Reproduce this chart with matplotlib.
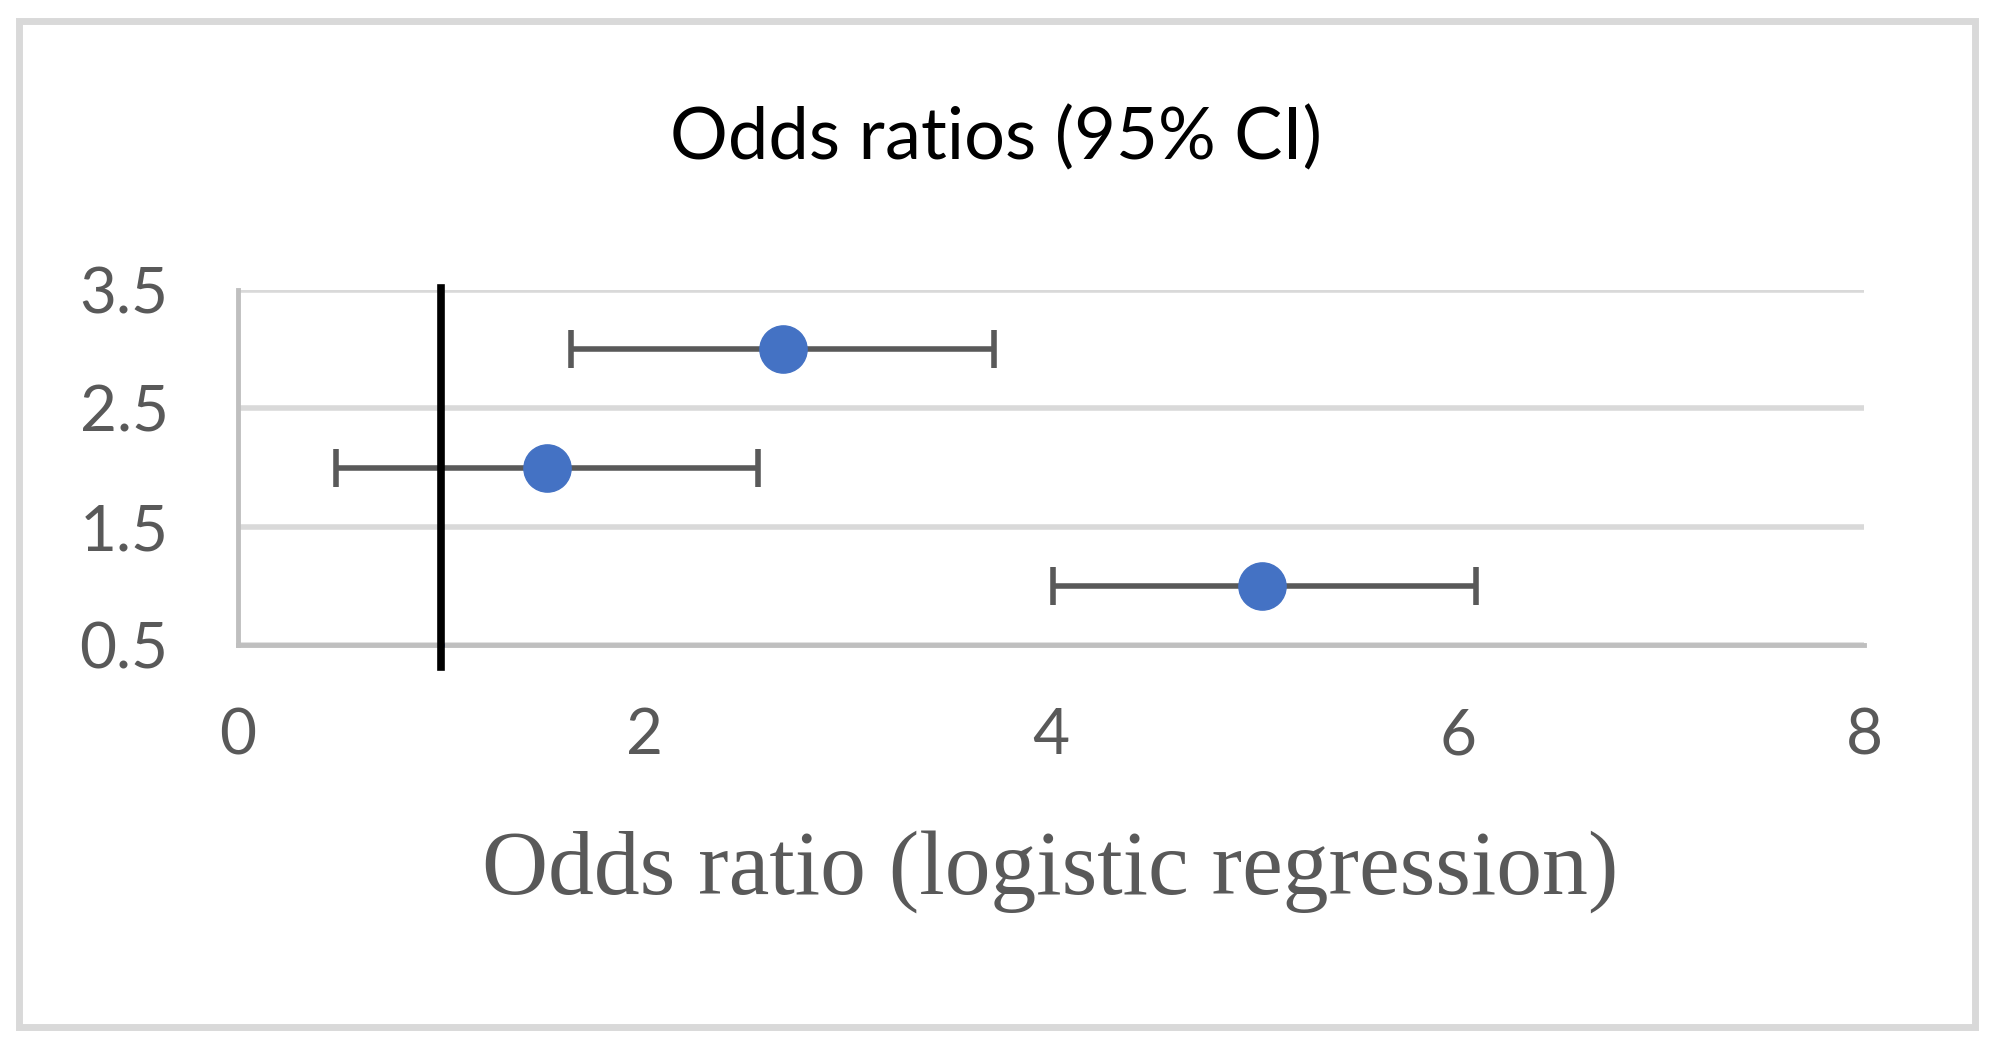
import matplotlib
matplotlib.use("Agg")
import matplotlib.pyplot as plt
from matplotlib.patches import Rectangle

# ---- data ----
rows = [1, 2, 3]
odds = [5.04, 1.52, 2.68]
ci_low = [4.01, 0.48, 1.64]
ci_high = [6.09, 2.56, 3.72]
ref_x = [1, 1]
ref_y = [0.31, 3.52]

BLUE = "#4472C4"
GREY_TXT = "#595959"
ERR = "#595959"

fig = plt.figure(figsize=(19.95, 10.47), dpi=100)
fig.patch.set_facecolor("white")

# outer chart border
fig.patches.append(Rectangle((19 / 1995, 1 - 1027 / 1047), (1975 - 19) / 1995, (1027 - 21) / 1047,
                             transform=fig.transFigure, fill=False,
                             edgecolor="#d9d9d9", linewidth=5))

ax = fig.add_axes([238 / 1995, 1 - 645 / 1047, (1864 - 238) / 1995, (645 - 290) / 1047])

xerr = [[o - lo for o, lo in zip(odds, ci_low)], [hi - o for o, hi in zip(odds, ci_high)]]
ax.errorbar(odds, rows, xerr=xerr, fmt="none", ecolor=ERR, elinewidth=4,
            capsize=14, capthick=4, zorder=3)
ax.plot(odds, rows, "o", color=BLUE, markersize=34, zorder=4)

# reference line at OR = 1 (tiny point at its base, as in the source)
ax.plot(ref_x[0], 0.5, "o", color=BLUE, markersize=4, clip_on=False, zorder=4)
ax.plot(ref_x, ref_y, color="black", linewidth=5.5, clip_on=False, zorder=5)

ax.set_xlim(0, 8)
ax.set_ylim(0.5, 3.5)
ax.set_xticks([0, 2, 4, 6, 8])
ax.set_yticks([0.5, 1.5, 2.5, 3.5])
ax.set_yticklabels(["0.5", "1.5", "2.5", "3.5"])

ax.grid(axis="y", color="#d9d9d9", linewidth=4, zorder=0)
ax.set_axisbelow(True)
for s in ["top", "right"]:
    ax.spines[s].set_visible(False)
for s in ["left", "bottom"]:
    ax.spines[s].set_color("#bfbfbf")
    ax.spines[s].set_linewidth(3.5)

ax.tick_params(length=0, labelcolor=GREY_TXT, labelsize=46)
ax.tick_params(axis="y", pad=50)
ax.tick_params(axis="x", pad=45)
for lab in ax.get_xticklabels() + ax.get_yticklabels():
    lab.set_family("Lato")

fig.text(996 / 1995, 1 - 138 / 1047, "Odds ratios (95% CI)", ha="center", va="center",
         fontsize=52, family="Lato", color="black")
fig.text(1050 / 1995, 1 - 872 / 1047, "Odds ratio (logistic regression)", ha="center",
         va="center", fontsize=66, family="Liberation Serif", color=GREY_TXT)

fig.savefig("out.png", dpi=100, facecolor="white")
